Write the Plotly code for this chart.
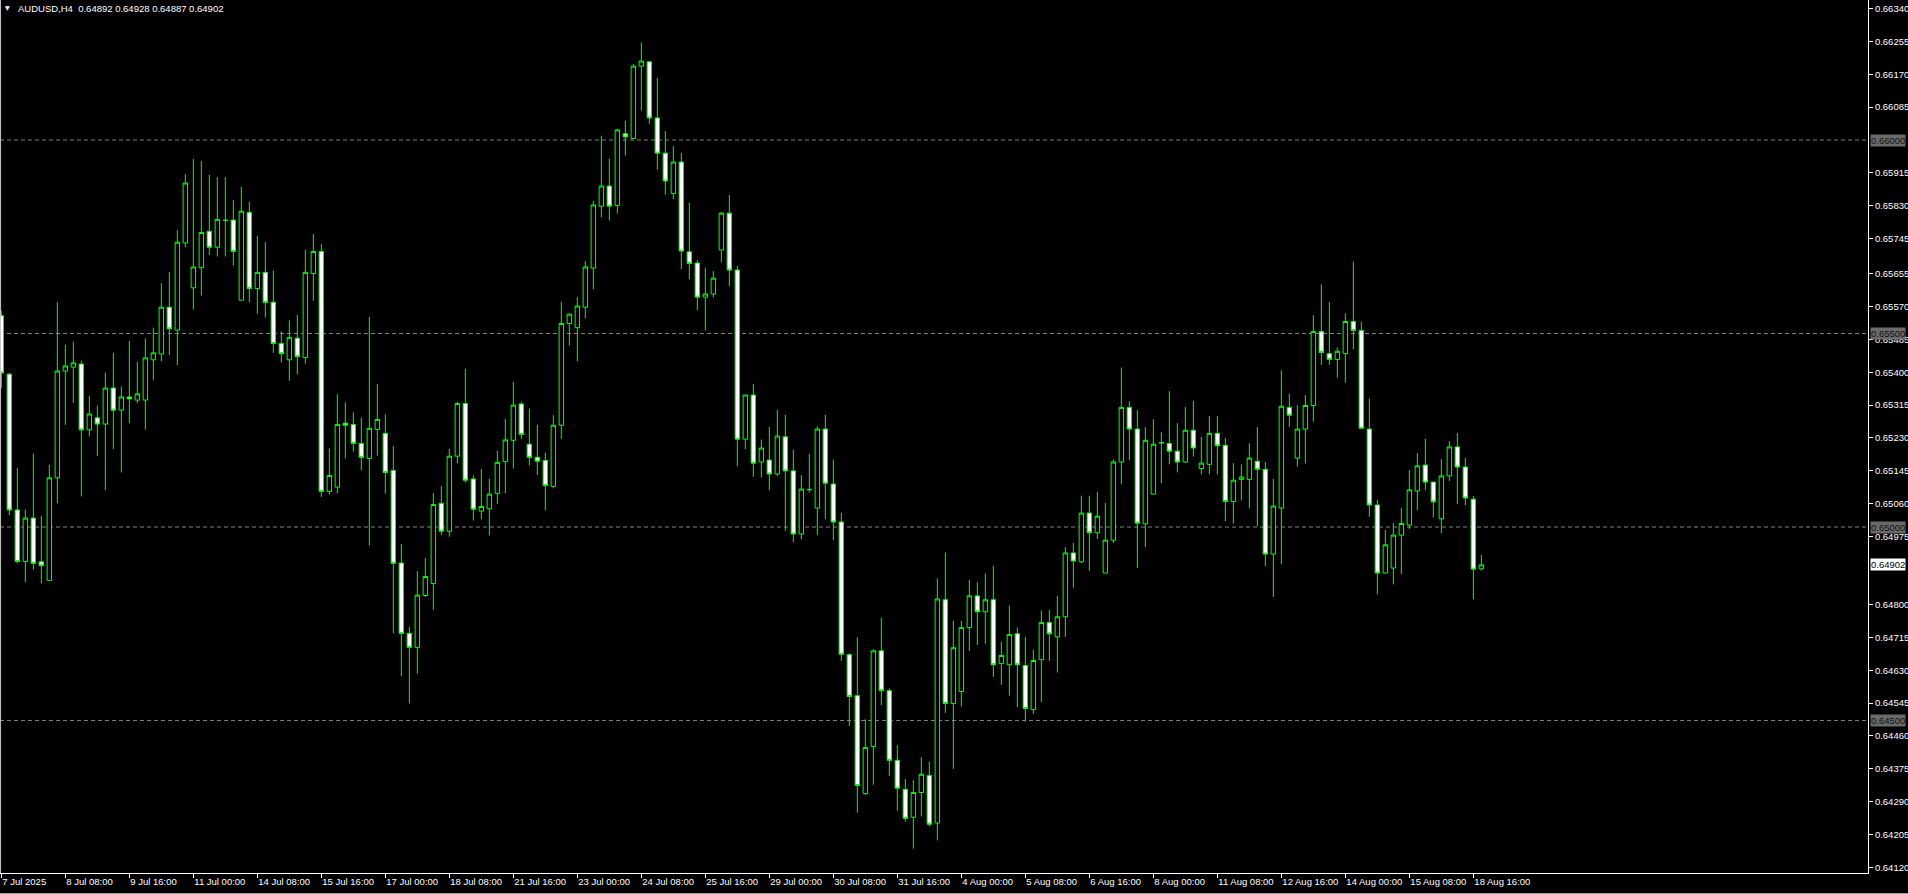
import plotly.graph_objects as go

# AUDUSD H4, 7 Jul 2025 00:00 .. 18 Aug 2025 20:00 (one value per bar)
opens = [
    0.65546, 0.65395, 0.65044, 0.64911, 0.65023, 0.64910, 0.64862, 0.65127, 0.65403, 0.65413,
    0.65421, 0.65251, 0.65282, 0.65266, 0.65359, 0.65302, 0.65336, 0.65328, 0.65328, 0.65432,
    0.65447, 0.65568, 0.65509, 0.65734, 0.65618, 0.65670, 0.65764, 0.65723, 0.65793, 0.65793,
    0.65586, 0.65813, 0.65616, 0.65658, 0.65581, 0.65474, 0.65432, 0.65488, 0.65438, 0.65655,
    0.65712, 0.65092, 0.65103, 0.65268, 0.65265, 0.65216, 0.65177, 0.65252, 0.65242, 0.65146,
    0.64907, 0.64725, 0.64689, 0.64823, 0.64854, 0.65061, 0.64989, 0.65183, 0.65319, 0.65124,
    0.65041, 0.65047, 0.65087, 0.65169, 0.65224, 0.65318, 0.65214, 0.65180, 0.65172, 0.65105,
    0.65263, 0.65526, 0.65515, 0.65568, 0.65669, 0.65829, 0.65881, 0.65831, 0.66016, 0.66004,
    0.66191, 0.66202, 0.66057, 0.65966, 0.65862, 0.65943, 0.65711, 0.65682, 0.65594, 0.65602,
    0.65716, 0.65811, 0.65664, 0.65227, 0.65341, 0.65168, 0.65173, 0.65137, 0.65233, 0.65145,
    0.64982, 0.65096, 0.65049, 0.65253, 0.65111, 0.65013, 0.64670, 0.64564, 0.64311, 0.64433,
    0.64680, 0.64577, 0.64397, 0.64322, 0.64250, 0.64314, 0.64358, 0.64235, 0.64812, 0.64544,
    0.64575, 0.64740, 0.64822, 0.64781, 0.64812, 0.64647, 0.64644, 0.64724, 0.64642, 0.64528,
    0.64657, 0.64753, 0.64716, 0.64768, 0.64933, 0.64910, 0.65036, 0.64985, 0.64881, 0.64966,
    0.65168, 0.65309, 0.65253, 0.65008, 0.65085, 0.65217, 0.65216, 0.65196, 0.65168, 0.65250,
    0.65151, 0.65162, 0.65242, 0.65211, 0.65066, 0.65123, 0.65123, 0.65170, 0.65149, 0.64930,
    0.65049, 0.65309, 0.65178, 0.65253, 0.65314, 0.65505, 0.65448, 0.65433, 0.65448, 0.65531,
    0.65508, 0.65253, 0.65057, 0.64881, 0.64894, 0.64979, 0.65005, 0.65093, 0.65160, 0.65116,
    0.65021, 0.65132, 0.65207, 0.65155, 0.65072, 0.64892,
]
highs = [
    0.65559, 0.65398, 0.65152, 0.65045, 0.65190, 0.65029, 0.65161, 0.65581, 0.65471, 0.65479,
    0.65430, 0.65339, 0.65314, 0.65399, 0.65450, 0.65363, 0.65481, 0.65427, 0.65487, 0.65515,
    0.65630, 0.65659, 0.65767, 0.65912, 0.65951, 0.65946, 0.65910, 0.65904, 0.65904, 0.65845,
    0.65879, 0.65840, 0.65752, 0.65736, 0.65663, 0.65506, 0.65534, 0.65548, 0.65716, 0.65757,
    0.65731, 0.65203, 0.65343, 0.65322, 0.65296, 0.65283, 0.65543, 0.65370, 0.65291, 0.65209,
    0.64956, 0.64742, 0.64886, 0.64920, 0.65088, 0.65106, 0.65202, 0.65323, 0.65409, 0.65133,
    0.65150, 0.65125, 0.65197, 0.65279, 0.65375, 0.65323, 0.65306, 0.65264, 0.65192, 0.65289,
    0.65582, 0.65552, 0.65594, 0.65687, 0.65842, 0.66011, 0.65952, 0.66028, 0.66050, 0.66196,
    0.66252, 0.66202, 0.66161, 0.66023, 0.65984, 0.65967, 0.65838, 0.65690, 0.65670, 0.65661,
    0.65814, 0.65858, 0.65675, 0.65341, 0.65370, 0.65226, 0.65259, 0.65303, 0.65290, 0.65200,
    0.65134, 0.65189, 0.65260, 0.65290, 0.65174, 0.65037, 0.64674, 0.64715, 0.64503, 0.64684,
    0.64766, 0.64583, 0.64436, 0.64349, 0.64346, 0.64405, 0.64394, 0.64867, 0.64934, 0.64758,
    0.64758, 0.64863, 0.64857, 0.64880, 0.64900, 0.64704, 0.64797, 0.64740, 0.64716, 0.64683,
    0.64784, 0.64786, 0.64822, 0.64948, 0.64959, 0.65081, 0.65081, 0.65091, 0.65062, 0.65175,
    0.65412, 0.65325, 0.65302, 0.65258, 0.65278, 0.65245, 0.65351, 0.65268, 0.65310, 0.65326,
    0.65233, 0.65287, 0.65287, 0.65230, 0.65165, 0.65162, 0.65216, 0.65258, 0.65168, 0.65124,
    0.65405, 0.65345, 0.65315, 0.65341, 0.65547, 0.65627, 0.65581, 0.65464, 0.65552, 0.65686,
    0.65531, 0.65332, 0.65070, 0.64992, 0.65010, 0.65049, 0.65147, 0.65191, 0.65228, 0.65116,
    0.65176, 0.65222, 0.65243, 0.65178, 0.65080, 0.64928,
]
lows = [
    0.65359, 0.65030, 0.64906, 0.64857, 0.64890, 0.64854, 0.64862, 0.65061, 0.65264, 0.65321,
    0.65079, 0.65234, 0.65183, 0.65095, 0.65201, 0.65141, 0.65268, 0.65320, 0.65252, 0.65379,
    0.65428, 0.65444, 0.65418, 0.65723, 0.65562, 0.65598, 0.65703, 0.65699, 0.65699, 0.65675,
    0.65586, 0.65580, 0.65551, 0.65541, 0.65450, 0.65425, 0.65378, 0.65394, 0.65422, 0.65585,
    0.65078, 0.65084, 0.65087, 0.65177, 0.65195, 0.65146, 0.64952, 0.65184, 0.65086, 0.64726,
    0.64615, 0.64544, 0.64621, 0.64819, 0.64786, 0.64979, 0.64975, 0.65164, 0.65115, 0.65017,
    0.65020, 0.64978, 0.65060, 0.65087, 0.65151, 0.65227, 0.65159, 0.65134, 0.65043, 0.65100,
    0.65228, 0.65469, 0.65428, 0.65539, 0.65614, 0.65800, 0.65792, 0.65810, 0.65960, 0.66004,
    0.66076, 0.66042, 0.65923, 0.65859, 0.65847, 0.65666, 0.65640, 0.65560, 0.65508, 0.65593,
    0.65684, 0.65622, 0.65157, 0.65201, 0.65130, 0.65128, 0.65095, 0.65131, 0.64990, 0.64961,
    0.64968, 0.65089, 0.64979, 0.65020, 0.64966, 0.64654, 0.64486, 0.64262, 0.64308, 0.64334,
    0.64540, 0.64357, 0.64267, 0.64239, 0.64169, 0.64252, 0.64226, 0.64190, 0.64520, 0.64375,
    0.64536, 0.64680, 0.64695, 0.64698, 0.64613, 0.64592, 0.64564, 0.64535, 0.64497, 0.64517,
    0.64548, 0.64654, 0.64624, 0.64716, 0.64843, 0.64907, 0.64887, 0.64969, 0.64881, 0.64959,
    0.65111, 0.65173, 0.64894, 0.64948, 0.65085, 0.65113, 0.65162, 0.65141, 0.65165, 0.65182,
    0.65136, 0.65136, 0.65136, 0.65015, 0.65009, 0.65069, 0.65048, 0.65002, 0.64899, 0.64819,
    0.64904, 0.65259, 0.65156, 0.65164, 0.65272, 0.65419, 0.65419, 0.65386, 0.65373, 0.65459,
    0.65253, 0.65026, 0.64826, 0.64881, 0.64852, 0.64878, 0.64995, 0.65043, 0.65095, 0.65025,
    0.64984, 0.65119, 0.65059, 0.65056, 0.64813, 0.64887,
]
closes = [
    0.65398, 0.65044, 0.64911, 0.65023, 0.64906, 0.64900, 0.65127, 0.65403, 0.65416, 0.65424,
    0.65251, 0.65292, 0.65266, 0.65359, 0.65302, 0.65336, 0.65331, 0.65344, 0.65437, 0.65450,
    0.65568, 0.65512, 0.65736, 0.65889, 0.65672, 0.65761, 0.65723, 0.65795, 0.65792, 0.65712,
    0.65816, 0.65616, 0.65658, 0.65580, 0.65474, 0.65448, 0.65490, 0.65440, 0.65658, 0.65712,
    0.65092, 0.65133, 0.65265, 0.65263, 0.65216, 0.65180, 0.65255, 0.65278, 0.65141, 0.64906,
    0.64725, 0.64689, 0.64824, 0.64872, 0.65058, 0.64989, 0.65183, 0.65319, 0.65121, 0.65046,
    0.65053, 0.65085, 0.65167, 0.65225, 0.65315, 0.65239, 0.65180, 0.65170, 0.65107, 0.65263,
    0.65526, 0.65550, 0.65571, 0.65672, 0.65832, 0.65881, 0.65829, 0.66026, 0.66008, 0.66191,
    0.66204, 0.66057, 0.65966, 0.65894, 0.65943, 0.65713, 0.65681, 0.65594, 0.65602, 0.65643,
    0.65811, 0.65664, 0.65227, 0.65341, 0.65165, 0.65204, 0.65137, 0.65235, 0.65145, 0.64982,
    0.65098, 0.65097, 0.65253, 0.65113, 0.65013, 0.64671, 0.64562, 0.64332, 0.64430, 0.64680,
    0.64577, 0.64397, 0.64325, 0.64247, 0.64314, 0.64361, 0.64232, 0.64814, 0.64544, 0.64688,
    0.64740, 0.64822, 0.64781, 0.64812, 0.64644, 0.64668, 0.64722, 0.64644, 0.64531, 0.64655,
    0.64753, 0.64724, 0.64768, 0.64933, 0.64912, 0.65036, 0.64985, 0.65028, 0.64966, 0.65168,
    0.65309, 0.65253, 0.65010, 0.65224, 0.65214, 0.65218, 0.65196, 0.65168, 0.65250, 0.65204,
    0.65165, 0.65242, 0.65210, 0.65066, 0.65121, 0.65129, 0.65178, 0.65149, 0.64930, 0.65054,
    0.65312, 0.65289, 0.65253, 0.65314, 0.65505, 0.65451, 0.65433, 0.65454, 0.65531, 0.65508,
    0.65255, 0.65057, 0.64881, 0.64954, 0.64979, 0.65009, 0.65096, 0.65158, 0.65116, 0.65065,
    0.65132, 0.65207, 0.65155, 0.65075, 0.64891, 0.64902,
]

# time axis labels (every 8th bar)
time_tick_bars = list(range(0, 185, 8))
time_tick_labels = [
    "7 Jul 2025", "8 Jul 08:00", "9 Jul 16:00", "11 Jul 00:00", "14 Jul 08:00",
    "15 Jul 16:00", "17 Jul 00:00", "18 Jul 08:00", "21 Jul 16:00", "23 Jul 00:00",
    "24 Jul 08:00", "25 Jul 16:00", "29 Jul 00:00", "30 Jul 08:00", "31 Jul 16:00",
    "4 Aug 00:00", "5 Aug 08:00", "6 Aug 16:00", "8 Aug 00:00", "11 Aug 08:00",
    "12 Aug 16:00", "14 Aug 00:00", "15 Aug 08:00", "18 Aug 16:00",
]

# price scale labels (the ones under the level / bid boxes are hidden there)
price_ticks = [
    0.66340, 0.66255, 0.66170, 0.66085, 0.65915, 0.65830, 0.65745, 0.65655,
    0.65570, 0.65485, 0.65400, 0.65315, 0.65230, 0.65145, 0.65060, 0.64975,
    0.64800, 0.64715, 0.64630, 0.64545, 0.64460, 0.64375, 0.64290, 0.64205, 0.64120,
]

level_lines = [0.66000, 0.65500, 0.65000, 0.64500]

symbol_caption = "AUDUSD,H4"

bars = list(range(len(opens)))
last_price = closes[-1]

FONT = "Liberation Sans"
GREEN = "#00ff00"

fig = go.Figure(go.Candlestick(
    x=bars, open=opens, high=highs, low=lows, close=closes,
    increasing=dict(line=dict(color=GREEN, width=1), fillcolor="#000000"),
    decreasing=dict(line=dict(color=GREEN, width=1), fillcolor="#ffffff"),
    whiskerwidth=0,
    hoverinfo="skip",
))

# horizontal levels with their price boxes on the axis
for lvl in level_lines:
    fig.add_shape(type="line", xref="paper", x0=0, x1=1, yref="y", y0=lvl, y1=lvl,
                  line=dict(color="#808080", width=1, dash="4px,3px"), layer="below")
    fig.add_annotation(xref="paper", x=1, xanchor="left", xshift=2, yref="y", y=lvl,
                       text=f"{lvl:.5f}", showarrow=False, bgcolor="#6a6a6a",
                       borderpad=0, font=dict(family=FONT, size=9.5, color="#111111"))

# last price box
fig.add_annotation(xref="paper", x=1, xanchor="left", xshift=2, yref="y", y=last_price,
                   text=f"{last_price:.5f}", showarrow=False, bgcolor="#ffffff",
                   borderpad=0, font=dict(family=FONT, size=9.5, color="#000000"))

# caption in the top-left corner
caption = symbol_caption + "\u00a0\u00a0" + " ".join(
    f"{v:.5f}" for v in (opens[-1], highs[-1], lows[-1], closes[-1]))
fig.add_annotation(xref="paper", yref="paper", x=0, y=1, xanchor="left", yanchor="top",
                   xshift=16, yshift=-1, text=caption, showarrow=False,
                   font=dict(family=FONT, size=9.5, color="#ffffff"))
fig.add_annotation(xref="paper", yref="paper", x=0, y=1, xanchor="left", yanchor="top",
                   xshift=3, yshift=-2, text="\u25bc", showarrow=False,
                   font=dict(family="DejaVu Sans", size=6, color="#ffffff"))

# window border lines
fig.add_shape(type="line", xref="paper", yref="paper", x0=0.0003, x1=0.0003, y0=0, y1=1,
              line=dict(color="#c8c8c8", width=1))
fig.add_shape(type="line", xref="paper", yref="paper", x0=0, x1=1.03, y0=-0.0235, y1=-0.0235,
              line=dict(color="#a0a0a0", width=1))

fig.update_layout(
    width=1908, height=894,
    margin=dict(l=0, r=40, t=0, b=21),
    paper_bgcolor="#000000", plot_bgcolor="#000000",
    showlegend=False,
    boxgap=0.45, boxgroupgap=0,
    font=dict(family=FONT, size=9.5, color="#ffffff"),
    xaxis=dict(
        range=[-0.166, 233.33], rangeslider=dict(visible=False),
        showgrid=False, zeroline=False,
        showline=True, linecolor="#ffffff", linewidth=1,
        tickmode="array", tickvals=time_tick_bars, ticktext=time_tick_labels,
        ticks="outside", ticklen=4, tickcolor="#ffffff",
        ticklabelposition="outside right", tickangle=0,
        tickfont=dict(family=FONT, size=9.5, color="#ffffff"),
    ),
    yaxis=dict(
        range=[0.641059, 0.663618], side="right",
        showgrid=False, zeroline=False,
        showline=True, linecolor="#ffffff", linewidth=1,
        tickmode="array", tickvals=price_ticks,
        ticktext=[f"{v:.5f}" for v in price_ticks],
        ticks="outside", ticklen=4, tickcolor="#ffffff",
        tickfont=dict(family=FONT, size=9.5, color="#ffffff"),
    ),
)

fig.write_html(
    "out.html",
    config={"displayModeBar": False},
    post_script="document.body.style.margin='0';document.body.style.background='#000';"
                "document.body.style.overflow='hidden';",
)
